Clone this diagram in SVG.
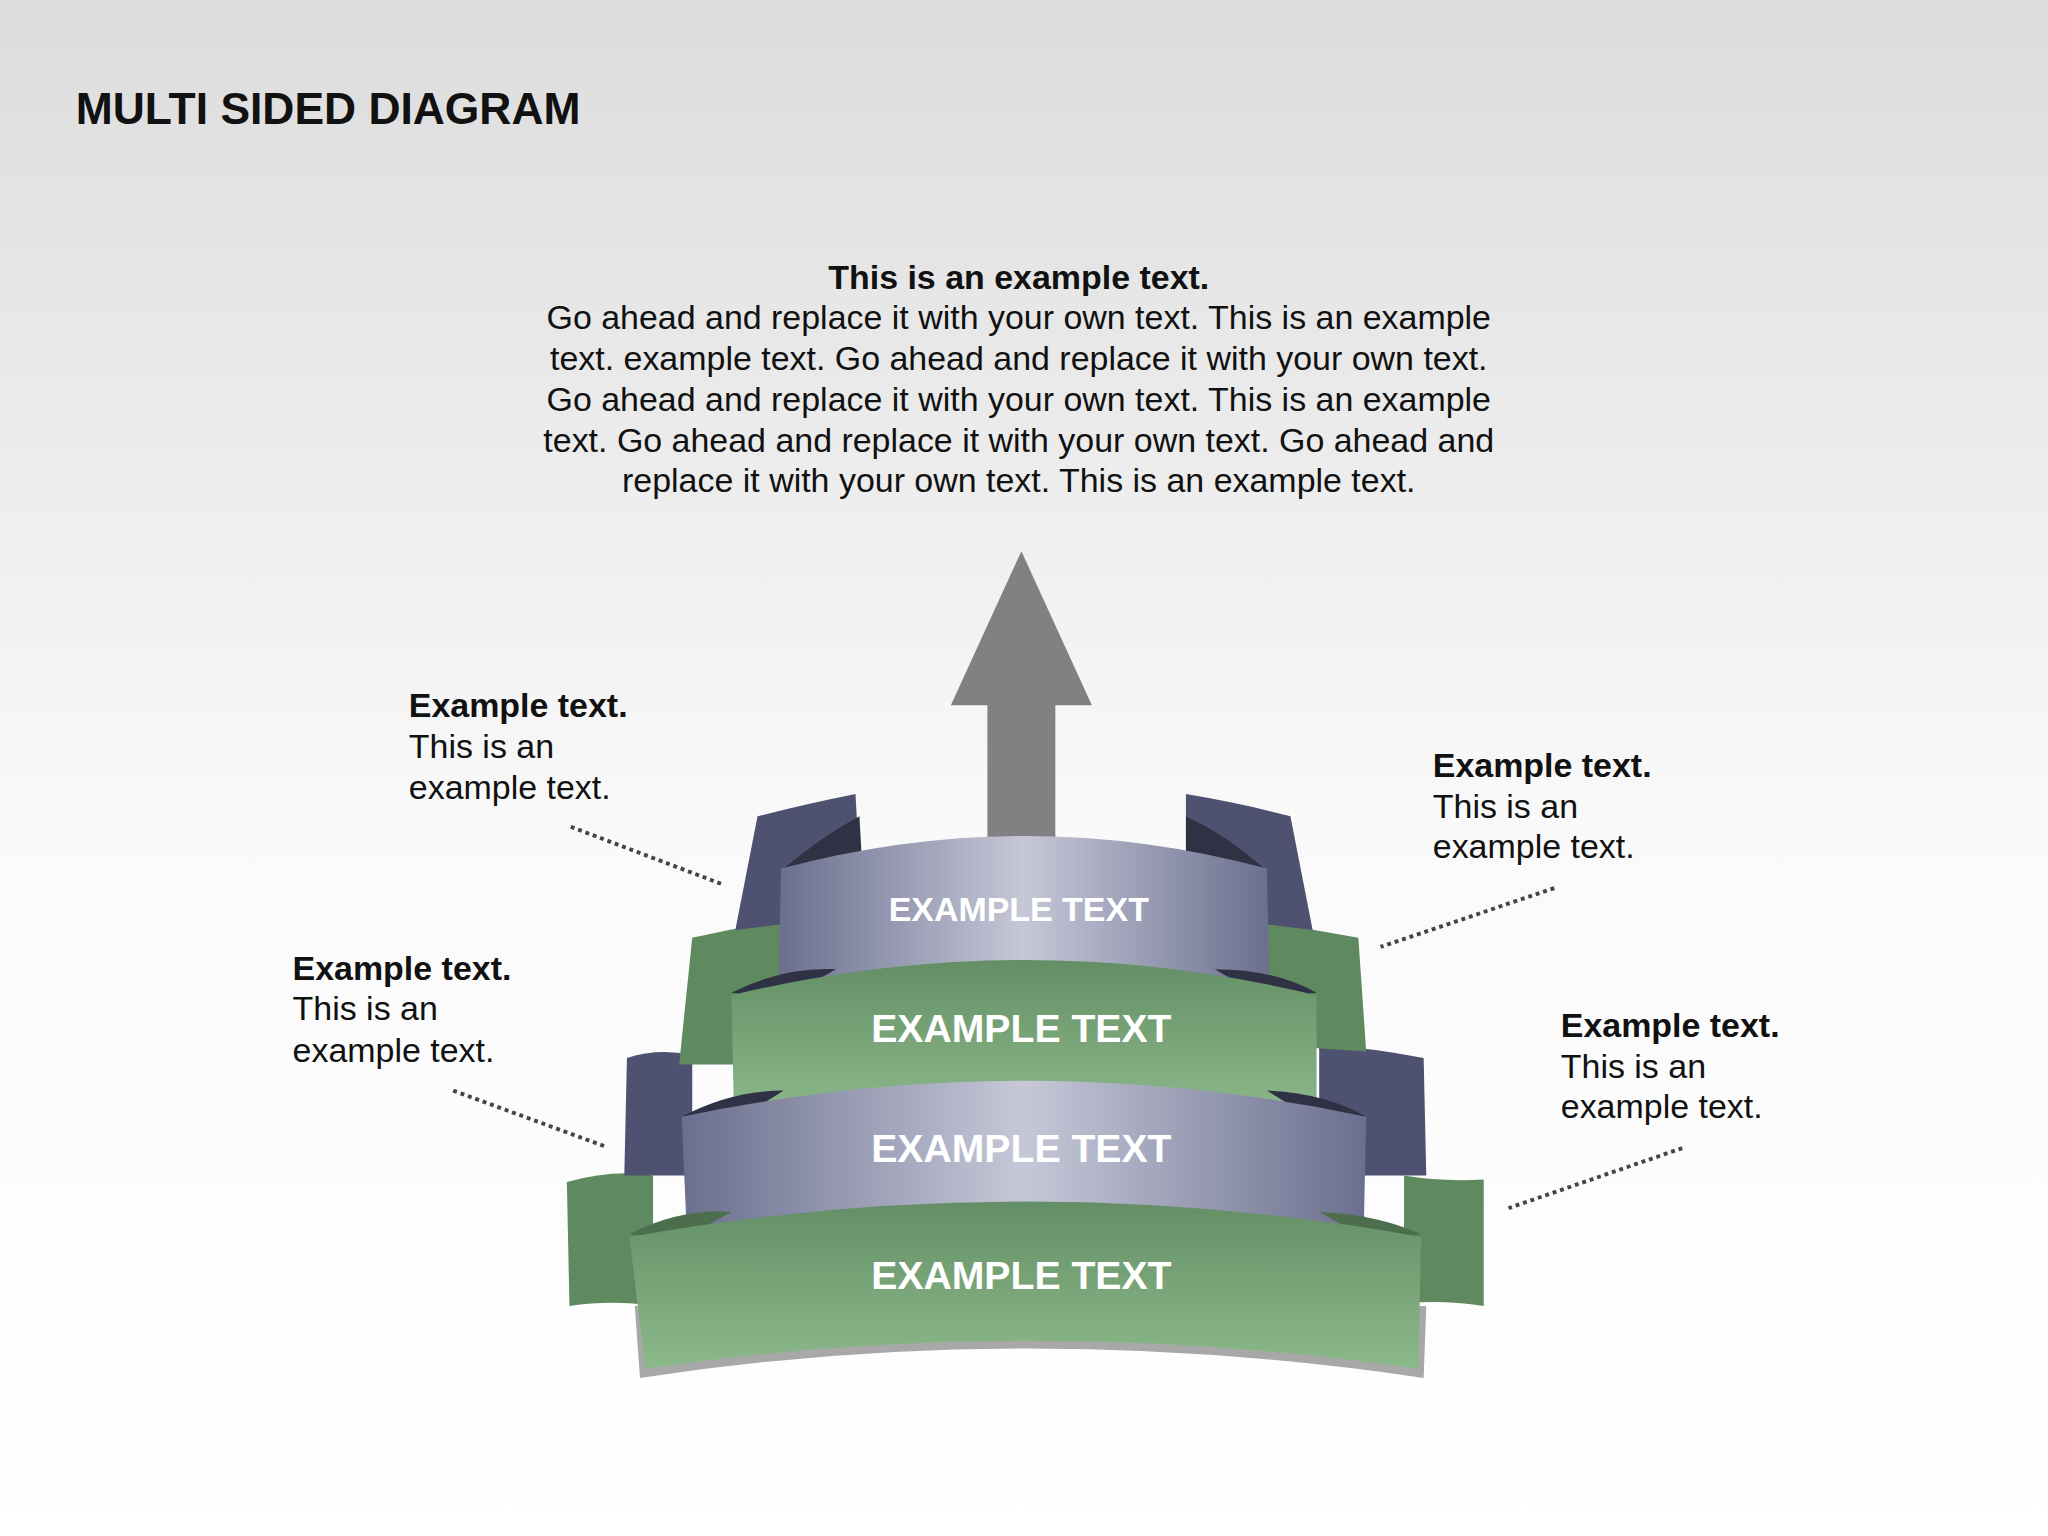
<svg xmlns="http://www.w3.org/2000/svg" width="2048" height="1536" viewBox="0 0 2048 1536">
<defs>
<linearGradient id="bg" x1="0" y1="0" x2="0" y2="1"><stop offset="0" stop-color="#dcdcdc"/><stop offset="0.55" stop-color="#fafafa"/><stop offset="1" stop-color="#ffffff"/></linearGradient>
<linearGradient id="pur" x1="0" y1="0" x2="1" y2="0"><stop offset="0" stop-color="#6b6f8e"/><stop offset="0.5" stop-color="#c6c8d8"/><stop offset="1" stop-color="#6b6f8e"/></linearGradient>
<linearGradient id="grn" x1="0" y1="0" x2="0" y2="1"><stop offset="0" stop-color="#648f66"/><stop offset="1" stop-color="#8cb98a"/></linearGradient>
<style>
.t{font-family:"Liberation Sans",Arial,sans-serif;font-size:26px;fill:#111}
.b{font-weight:bold}
.rt{font-family:"Liberation Sans",Arial,sans-serif;font-weight:bold;fill:#fff;text-anchor:middle}
.dot{stroke:#444;stroke-width:3;stroke-dasharray:3 3;fill:none}
.dp{fill:#4e5170}.dg{fill:#5f8a60}.sh{fill:#2f3145}
</style>
</defs>
<rect width="2048" height="1536" fill="url(#bg)"/>
<g transform="scale(1.3061)">
<text x="58" y="95" class="t b" style="font-size:34px">MULTI SIDED DIAGRAM</text>
<g id="top-text" class="t" text-anchor="middle">
<text x="780" y="221" class="b">This is an example text.</text>
<text x="780" y="252">Go ahead and replace it with your own text. This is an example</text>
<text x="780" y="283">text. example text. Go ahead and replace it with your own text.</text>
<text x="780" y="315">Go ahead and replace it with your own text. This is an example</text>
<text x="780" y="346">text. Go ahead and replace it with your own text. Go ahead and</text>
<text x="780" y="377">replace it with your own text. This is an example text.</text>
</g>
<g id="arrow"><path d="M782 422 L836 540 L808 540 L808 645 L756 645 L756 540 L728 540 Z" fill="#818181"/></g>
<g id="pyramid">
<path class="dg" d="M434 905 Q470 895 500 900 L500 1000 Q470 995 436 1000 Z"/>
<path class="dg" d="M1075 900 Q1105 905 1136 903 L1136 1000 Q1105 995 1075 998 Z"/>
<path class="dp" d="M480 810 Q505 802 530 808 L530 900 L478 900 Z"/>
<path class="dp" d="M1010 800 Q1050 802 1090 810 L1092 900 L1010 900 Z"/>
<path class="dg" d="M530 718 Q565 710 600 705 L600 815 L520 815 Z"/>
<path class="dg" d="M970 705 Q1005 712 1040 718 L1046 805 L970 800 Z"/>
<path class="dp" d="M580 625 Q620 615 655 608 L660 700 L563 712 Z"/>
<path class="dp" d="M908 608 Q950 615 988 625 L1005 712 L908 700 Z"/>
<path class="sh" d="M600 665 Q630 640 658 625 L660 660 Z"/>
<path class="sh" d="M908 625 Q940 640 968 665 L908 660 Z"/>
<g id="tier1"><path d="M598 665 Q785 615 970 665 L972 760 Q785 715 596 760 Z" fill="url(#pur)"/>
<text x="780" y="705" class="rt" font-size="26">EXAMPLE TEXT</text></g>
<g id="tier2"><path class="sh" d="M560 760 Q600 740 640 742 L600 765 Z"/><path class="sh" d="M930 742 Q975 742 1008 760 L970 765 Z"/>
<path d="M560 762 Q785 708 1008 762 L1008 855 Q785 805 562 855 Z" fill="url(#grn)"/>
<text x="782" y="798" class="rt" font-size="30">EXAMPLE TEXT</text></g>
<g id="tier3"><path class="sh" d="M522 855 Q560 835 600 835 L560 860 Z"/><path class="sh" d="M970 835 Q1015 837 1046 855 L1010 860 Z"/>
<path d="M522 855 Q785 800 1046 855 L1044 948 Q785 900 526 948 Z" fill="url(#pur)"/>
<text x="782" y="890" class="rt" font-size="30">EXAMPLE TEXT</text></g>
<g id="tier4"><path d="M486 1000 L490 1055 Q785 1010 1090 1055 L1092 1000 Z" fill="#a8a8a8"/>
<path d="M482 945 Q520 925 560 928 L520 950 Z" fill="#4c6e4c"/><path d="M1010 928 Q1055 930 1088 945 L1050 950 Z" fill="#4c6e4c"/>
<path d="M482 947 Q785 893 1088 947 L1086 1048 Q785 1005 494 1048 Z" fill="url(#grn)"/>
<text x="782" y="987" class="rt" font-size="30">EXAMPLE TEXT</text></g>
</g>
<g id="labels" class="t">
<text x="313" y="549" class="b">Example text.</text><text x="313" y="580">This is an</text><text x="313" y="612">example text.</text>
<text x="224" y="750" class="b">Example text.</text><text x="224" y="781">This is an</text><text x="224" y="813">example text.</text>
<text x="1097" y="595" class="b">Example text.</text><text x="1097" y="626">This is an</text><text x="1097" y="657">example text.</text>
<text x="1195" y="794" class="b">Example text.</text><text x="1195" y="825">This is an</text><text x="1195" y="856">example text.</text>
</g>
<g id="connectors">
<line class="dot" x1="437" y1="633" x2="553" y2="677"/>
<line class="dot" x1="347" y1="835" x2="464" y2="878"/>
<line class="dot" x1="1190" y1="680" x2="1057" y2="725"/>
<line class="dot" x1="1288" y1="879" x2="1155" y2="925"/>
</g>
</g>
</svg>
